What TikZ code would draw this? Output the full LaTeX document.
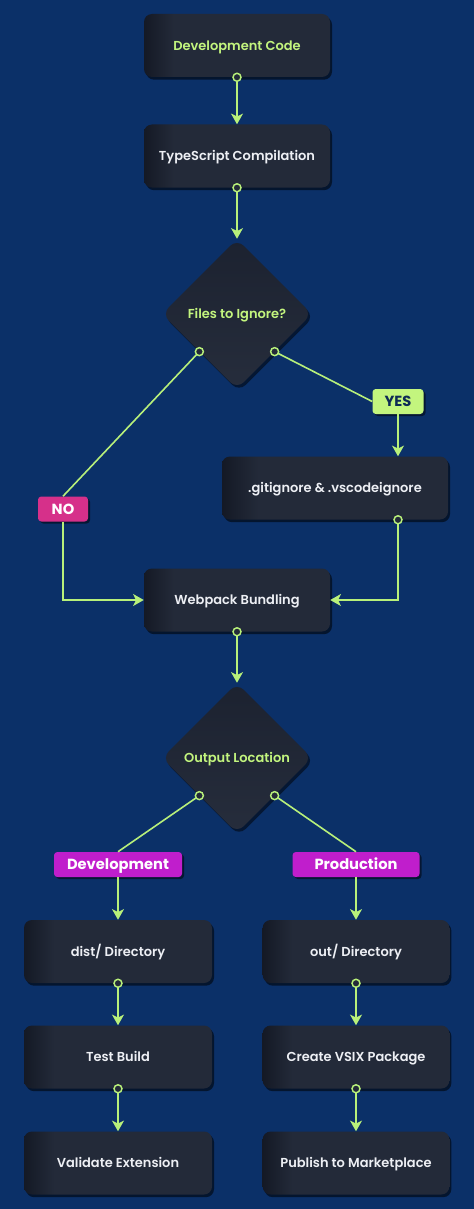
\documentclass[tikz,border=0pt]{standalone}
\usepackage{fontspec}
\setmainfont{Poppins}
\newfontfamily\medfont{Poppins SemiBold}
\usetikzlibrary{shapes.geometric,arrows.meta,shadows,calc}
\definecolor{bg}{HTML}{0B3068}
\definecolor{boxc}{HTML}{232A39}
\definecolor{boxd}{HTML}{141925}
\definecolor{diat}{HTML}{1C2230}
\definecolor{diab}{HTML}{262D3C}
\definecolor{lime}{HTML}{C3F57E}
\definecolor{wire}{HTML}{B8F07A}
\definecolor{txt}{HTML}{EDEFF4}
\definecolor{nopink}{HTML}{D6308A}
\definecolor{purp}{HTML}{C01ECC}
\definecolor{navy}{HTML}{0E2A55}
\pgfdeclarehorizontalshading{boxsh}{100bp}{color(0bp)=(boxd); color(25bp)=(boxd); color(33bp)=(boxc); color(100bp)=(boxc)}
\tikzset{
  box/.style={rectangle, rounded corners=6pt, minimum width=139.5pt, minimum height=47.25pt,
    inner sep=0pt, shading=boxsh, text=txt, font=\medfont\fontsize{9.75}{11}\selectfont,
    text height=7pt, text depth=0pt,
    drop shadow={shadow xshift=1.5pt, shadow yshift=-2pt, opacity=0.55, fill=black}},
  dia/.style={diamond, aspect=1, minimum width=112.5pt, minimum height=112.5pt, inner sep=0pt,
    rounded corners=7pt, text=lime, font=\medfont\fontsize{9.75}{11}\selectfont,
    text height=7pt, text depth=0pt,
    top color=diat, bottom color=diab,
    drop shadow={shadow xshift=1.5pt, shadow yshift=-2pt, opacity=0.5, fill=black}},
  tag/.style={rectangle, rounded corners=2.5pt, inner sep=0pt, minimum height=18.75pt,
    font=\bfseries\fontsize{11}{12}\selectfont, text height=7.8pt, text depth=0pt,
    drop shadow={shadow xshift=1.5pt, shadow yshift=-1.5pt, opacity=0.5, fill=black}},
  wire/.style={draw=wire, line width=1.2pt},
  arr/.style={wire, -{Stealth[length=8pt,width=9pt,inset=2.2pt]}},
  dot/.style={draw=wire, line width=1.1pt, fill=boxc}
}
\begin{document}
\begin{tikzpicture}[x=0.75pt,y=-0.75pt]
\fill[bg] (0,0) rectangle (474,1209);
\useasboundingbox (0,0) rectangle (474,1209);

\node[box, text=lime] (n1) at (237,45.5) {Development Code};
\node[box] (n2) at (237,156) {TypeScript Compilation};
\node[dia] (d1) at (237,314) {Files to Ignore?};
\node[tag, fill=lime, text=navy, minimum width=38.25pt] (yes) at (398,401.5) {YES};
\node[tag, fill=nopink, text=white, minimum width=37.5pt] (no) at (63,509) {NO};
\node[box, minimum width=169.5pt] (git) at (335,488) {.gitignore \& .vscodeignore};
\node[box] (wp) at (237,600) {Webpack Bundling};
\node[dia] (d2) at (237,758) {Output Location};
\node[tag, fill=purp, text=white, minimum width=96pt] (dev) at (118,864.5) {Development};
\node[tag, fill=purp, text=white, minimum width=95.25pt] (prod) at (356,864.5) {Production};
\node[box, minimum width=141pt] (dist) at (118,951.5) {dist/ Directory};
\node[box, minimum width=141pt] (test) at (118,1057) {Test Build};
\node[box, minimum width=141pt] (val) at (118,1163) {Validate Extension};
\node[box, minimum width=140pt] (out) at (356,951.5) {out/ Directory};
\node[box, minimum width=140pt] (vsix) at (356,1057) {Create VSIX Package};
\node[box, minimum width=140pt] (pub) at (356,1163) {Publish to Marketplace};

\coordinate (gb) at (yes.south |- git.south);
\coordinate (gt) at (yes.south |- git.north);

\draw[arr] (n1.south) -- (n2.north);
\draw[arr] (n2.south) -- (d1.north);
\draw[wire] (d1.south west) -- (no.north);
\draw[wire] (d1.south east) -- (yes.west);
\draw[arr] (yes.south) -- (gt);
\draw[arr] (no.south) |- (wp.west);
\draw[arr] (gb) |- (wp.east);
\draw[arr] (wp.south) -- (d2.north);
\draw[wire] (d2.south west) -- (dev.north);
\draw[wire] (d2.south east) -- (prod.north);
\draw[arr] (dev.south) -- (dist.north);
\draw[arr] (dist.south) -- (test.north);
\draw[arr] (test.south) -- (val.north);
\draw[arr] (prod.south) -- (out.north);
\draw[arr] (out.south) -- (vsix.north);
\draw[arr] (vsix.south) -- (pub.north);

\foreach \p in {n1.south, n2.south, d1.south west, d1.south east, gb, wp.south, d2.south west, d2.south east, dist.south, test.south, out.south, vsix.south}
  \draw[dot] (\p) circle (3pt);
\end{tikzpicture}
\end{document}
